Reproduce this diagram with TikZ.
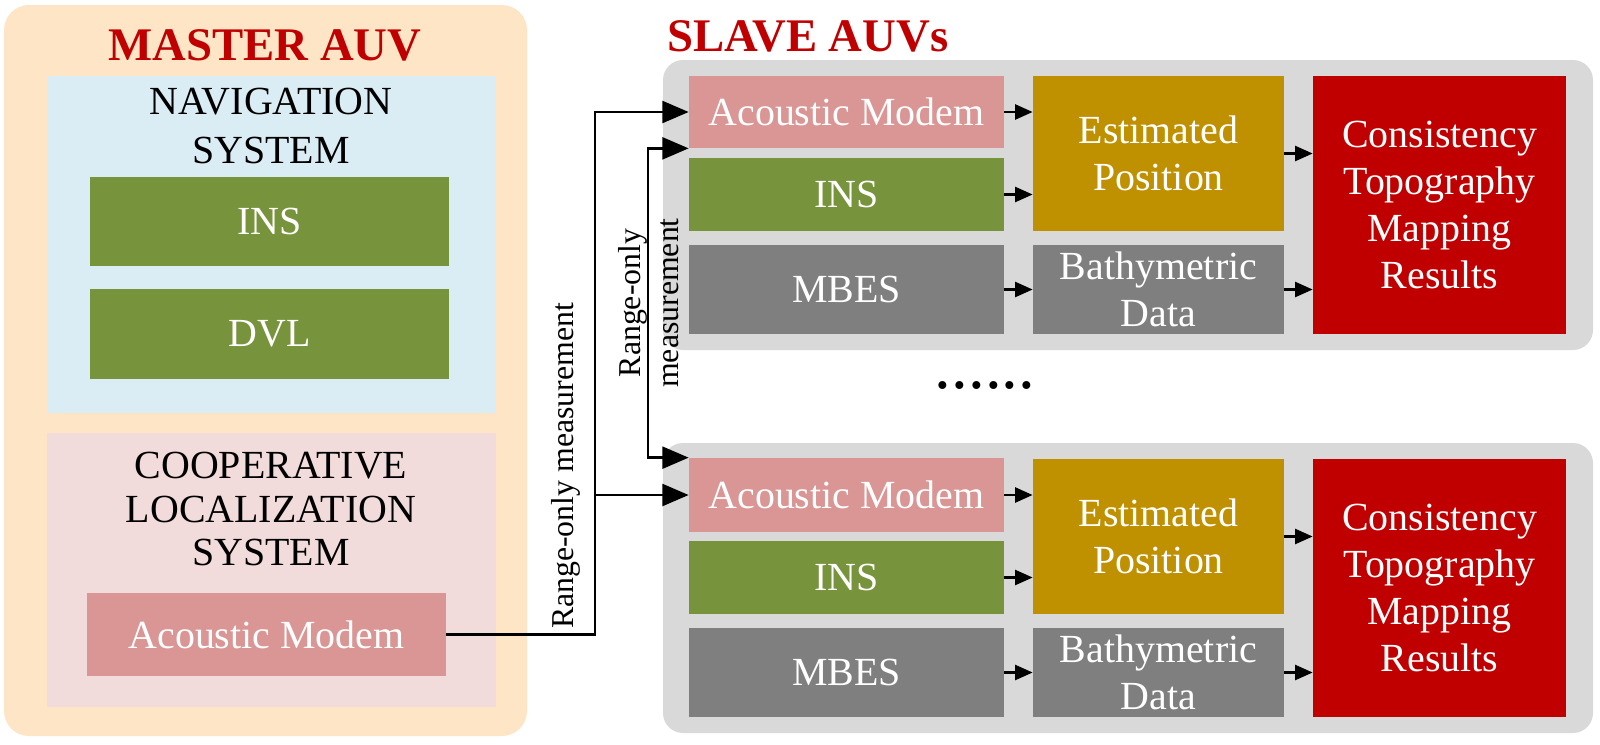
\documentclass[tikz,border=0pt]{standalone}
\usepackage{fontspec}
\setmainfont{Liberation Serif}
\usepackage{tikz}
\usetikzlibrary{arrows.meta}
\usepackage{xcolor}
\definecolor{masterbg}{RGB}{253,229,198}
\definecolor{navbg}{RGB}{219,237,244}
\definecolor{coopbg}{RGB}{242,220,219}
\definecolor{slavebg}{RGB}{217,217,217}
\definecolor{modem}{RGB}{217,150,148}
\definecolor{insgreen}{RGB}{119,147,60}
\definecolor{mbesgray}{RGB}{127,127,127}
\definecolor{posgold}{RGB}{191,144,0}
\definecolor{resred}{RGB}{192,0,0}

\tikzset{
  unit/.style={inner sep=0pt, text=white, align=center, font=\fontsize{22.7}{26.6}\selectfont},
  modembox/.style={unit, fill=modem},
  insbox/.style={unit, fill=insgreen},
  mbesbox/.style={unit, fill=mbesgray},
  posbox/.style={unit, fill=posgold},
  resbox/.style={unit, fill=resred},
  title/.style={inner sep=0pt, text=resred, font=\fontsize{26.6}{30}\selectfont\bfseries},
  heading/.style={inner sep=0pt, align=center, font=\fontsize{22.7}{26.5}\selectfont},
  rangelabel/.style={inner sep=0pt, rotate=90, align=center, font=\fontsize{18.1}{21.5}\selectfont},
  bigarrow/.style={line width=1.5pt, -{Triangle[length=15pt,width=12.5pt]}},
  bothways/.style={line width=1.5pt, {Triangle[length=15pt,width=12.5pt]}-{Triangle[length=15pt,width=12.5pt]}},
  smallarrow/.style={line width=1.5pt, -{Triangle[length=10pt,width=8.5pt]}}
}

\begin{document}
\begin{tikzpicture}[x=0.2mm, y=-0.2mm]
\useasboundingbox (0,0) rectangle (1600,744);

% master auv
\fill[masterbg, rounded corners=5mm] (4,5) rectangle (527,736);
\fill[navbg] (47,76) rectangle (496,413);
\fill[coopbg] (47,433) rectangle (496,707);
\node[title] (mtitle) at (265,45) {MASTER AUV};
\node[heading, font=\fontsize{22.7}{27.8}\selectfont] (nav) at (271,126) {NAVIGATION\\SYSTEM};
\node[insbox, minimum width=71.8mm, minimum height=17.8mm] (mINS) at (269.5,221.5) {INS};
\node[insbox, minimum width=71.8mm, minimum height=18mm] (mDVL) at (269.5,334) {DVL};
\node[heading, font=\fontsize{22.7}{25}\selectfont] (coop) at (271,509) {COOPERATIVE\\LOCALIZATION\\SYSTEM};
\node[modembox, minimum width=71.8mm, minimum height=16.6mm] (mAM) at (266.5,634.5) {Acoustic Modem};

% slave auvs
\node[title, anchor=west] (stitle) at (667,36) {SLAVE AUVs};
\fill[slavebg, rounded corners=4mm] (663,60) rectangle (1593,350);
\fill[slavebg, rounded corners=4mm] (663,443) rectangle (1593,733);

\node[modembox, minimum width=63mm, minimum height=14.4mm] (s1AM) at (846.5,112) {Acoustic Modem};
\node[insbox, minimum width=63mm, minimum height=14.6mm] (s1INS) at (846.5,194.5) {INS};
\node[mbesbox, minimum width=63mm, minimum height=17.8mm] (s1MBES) at (846.5,289.5) {MBES};
\node[posbox, minimum width=50.2mm, minimum height=31mm] (s1EP) at (1158.5,153.5) {Estimated\\Position};
\node[mbesbox, minimum width=50.2mm, minimum height=17.8mm] (s1BD) at (1158.5,289.5) {Bathymetric\\Data};
\node[resbox, minimum width=50.6mm, minimum height=51.6mm] (s1CT) at (1439.5,205) {Consistency\\Topography\\Mapping\\Results};

\node[modembox, minimum width=63mm, minimum height=14.8mm] (s2AM) at (846.5,495) {Acoustic Modem};
\node[insbox, minimum width=63mm, minimum height=14.6mm] (s2INS) at (846.5,577.5) {INS};
\node[mbesbox, minimum width=63mm, minimum height=17.8mm] (s2MBES) at (846.5,672.5) {MBES};
\node[posbox, minimum width=50.2mm, minimum height=31mm] (s2EP) at (1158.5,536.5) {Estimated\\Position};
\node[mbesbox, minimum width=50.2mm, minimum height=17.8mm] (s2BD) at (1158.5,672.5) {Bathymetric\\Data};
\node[resbox, minimum width=50.6mm, minimum height=51.6mm] (s2CT) at (1439.5,588) {Consistency\\Topography\\Mapping\\Results};

\node[inner sep=0pt, font=\fontsize{38}{38}\selectfont] (dots) at (985,385) {......};

% inside the slaves
\draw[smallarrow] (s1AM.east) -- (s1AM.east -| s1EP.west);
\draw[smallarrow] (s1INS.east) -- (s1INS.east -| s1EP.west);
\draw[smallarrow] (s1MBES.east) -- (s1BD.west);
\draw[smallarrow] (s1EP.east) -- (s1EP.east -| s1CT.west);
\draw[smallarrow] (s1BD.east) -- (s1BD.east -| s1CT.west);
\draw[smallarrow] (s2AM.east) -- (s2AM.east -| s2EP.west);
\draw[smallarrow] (s2INS.east) -- (s2INS.east -| s2EP.west);
\draw[smallarrow] (s2MBES.east) -- (s2BD.west);
\draw[smallarrow] (s2EP.east) -- (s2EP.east -| s2CT.west);
\draw[smallarrow] (s2BD.east) -- (s2BD.east -| s2CT.west);

% range-only links
\coordinate (bus1) at (595,300);
\coordinate (bus2) at (648,300);
\draw[bigarrow] (mAM.east) -| (bus1 |- s1AM.west) -- (s1AM.west);
\draw[bigarrow] (bus1 |- s2AM.west) -- (s2AM.west);
\draw[bothways] (s1AM.south west) -| (bus2) |- (s2AM.north west);
\node[rangelabel] (range1) at (566,466) {Range-only measurement};
\node[rangelabel] (range2) at (649,303) {Range-only\\measurement};
\end{tikzpicture}
\end{document}
